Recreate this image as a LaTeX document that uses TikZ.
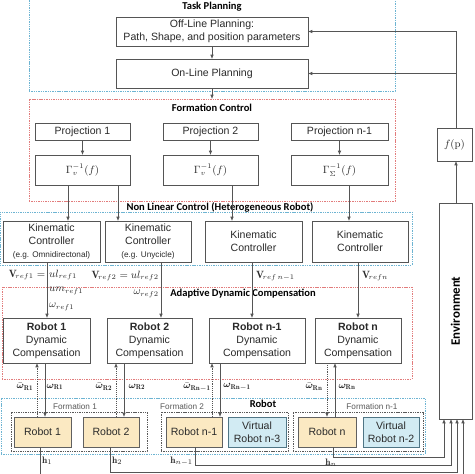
\documentclass[tikz,border=0pt]{standalone}
\usepackage{amsmath,bm}
\usepackage{fontspec}
\newfontfamily\arialfont{Liberation Sans}
\newfontfamily\titlefont{Carlito}
\usetikzlibrary{arrows.meta,positioning}
\definecolor{boxline}{HTML}{555555}
\definecolor{textc}{HTML}{2A2A2A}
\definecolor{grpblue}{HTML}{6DB4D2}
\definecolor{grpred}{HTML}{E27C7C}
\definecolor{robfill}{HTML}{FBE9C2}
\definecolor{virtfill}{HTML}{D2EBF3}
\definecolor{virtline}{HTML}{4F7585}
\tikzset{
  sz/.style 2 args={minimum width=#1*0.03cm,minimum height=#2*0.03cm},
  pbox/.style={draw=boxline,fill=white,line width=0.6pt,align=center,inner sep=0pt,outer sep=0pt,text=textc,font=\arialfont\fontsize{9}{11}\selectfont},
  ybox/.style={pbox,fill=robfill,draw=gray!75!black},
  cbox/.style={pbox,fill=virtfill,draw=virtline},
  bgrp/.style={draw=grpblue,dash pattern=on 1.2pt off 0.8pt,line width=0.8pt,inner sep=0pt,outer sep=0pt},
  rgrp/.style={bgrp,draw=grpred},
  fgrp/.style={bgrp,draw=gray!70!black,line width=0.7pt},
  gtitle/.style={inner sep=0pt,font=\titlefont\bfseries\fontsize{9}{10}\selectfont},
  ftitle/.style={inner sep=0pt,font=\arialfont\fontsize{7}{8}\selectfont,text=gray!70!black},
  mlab/.style={inner sep=0pt,text=textc,font=\fontsize{9}{10}\selectfont},
  wlab/.style={inner sep=0pt,text=textc,font=\fontsize{8}{9}\selectfont},
  varr/.style={-{Latex[length=1.3mm,width=1.1mm]},line width=0.6pt,draw=boxline},
  vdot/.style={varr,densely dotted},
  vline/.style={line width=0.6pt,draw=boxline}
}

\begin{document}
\begin{tikzpicture}[x=0.03cm,y=-0.03cm]
  \useasboundingbox (0,0) rectangle (474,474);
  \clip (0,0) rectangle (474,474);
  \fill[white] (0,0) rectangle (474,474);

  % groups
  \node[bgrp,sz={366}{100}] (taskgrp) at (212,41) {};
  \node[gtitle] (tasktitle) at (212,7) {Task Planning};
  \node[rgrp,sz={366}{102}] (formgrp) at (212,150) {};
  \node[gtitle] (formtitle) at (212,108) {Formation Control};
  \node[bgrp,sz={412}{53}] (nlgrp) at (206,238.5) {};
  \node[gtitle] (nltitle) at (220,207) {Non Linear Control (Heterogeneous Robot)};
  \node[rgrp,sz={410}{92}] (adgrp) at (207,333) {};
  \node[gtitle] (adtitle) at (243,294) {Adaptive Dynamic Compensation};
  \node[bgrp,sz={424}{56}] (robgrp) at (213,426) {};
  \node[gtitle] (robtitle) at (263,404) {Robot};
  \node[fgrp,sz={136}{39}] (f1grp) at (79,431.5) {};
  \node[ftitle] (f1title) at (75,407) {Formation 1};
  \node[fgrp,sz={127}{39}] (f2grp) at (224.5,431.5) {};
  \node[ftitle,anchor=west] (f2title) at (160,407) {Formation 2};
  \node[fgrp,sz={130}{39}] (fn1grp) at (358,431.5) {};
  \node[ftitle] (fn1title) at (372,407) {Formation n-1};

  % planning
  \node[pbox,sz={192}{29}] (offline) at (212,31.5) {Off-Line Planning:\\Path, Shape, and position parameters};
  \node[pbox,sz={192}{29}] (online) at (212,73.5) {On-Line Planning};

  % formation control
  \node[pbox,sz={95}{17}] (proj1) at (82.5,131.5) {Projection 1};
  \node[pbox,sz={95}{17}] (proj2) at (210.5,131.5) {Projection 2};
  \node[pbox,sz={97}{17}] (proj3) at (339.5,131.5) {Projection n-1};
  \node[pbox,sz={95}{30}] (gam1) at (82.5,170) {$\Gamma_{v}^{-1}(f)$};
  \node[pbox,sz={95}{30}] (gam2) at (210.5,170) {$\Gamma_{v}^{-1}(f)$};
  \node[pbox,sz={97}{30}] (gam3) at (339.5,170) {$\Gamma_{\Sigma}^{-1}(f)$};

  % kinematic controllers
  \node[pbox,sz={97}{41}] (kin1) at (51.5,241.5) {Kinematic\\Controller\\{\fontsize{7}{9}\selectfont(e.g. Omnidirectonal)}};
  \node[pbox,sz={86}{41}] (kin2) at (148,241.5) {Kinematic\\Controller\\{\fontsize{7}{9}\selectfont(e.g. Unycicle)}};
  \node[pbox,sz={97}{41}] (kin3) at (253.5,241.5) {Kinematic\\Controller};
  \node[pbox,sz={96}{41}] (kin4) at (360,241.5) {Kinematic\\Controller};

  % dynamic compensation
  \node[pbox,sz={87}{45}] (dyn1) at (46.5,340.5) {\textbf{Robot 1}\\Dynamic\\Compensation};
  \node[pbox,sz={85}{45}] (dyn2) at (149.5,340.5) {\textbf{Robot 2}\\Dynamic\\Compensation};
  \node[pbox,sz={96}{45}] (dyn3) at (257,340.5) {\textbf{Robot n-1}\\Dynamic\\Compensation};
  \node[pbox,sz={86}{45}] (dyn4) at (358,340.5) {\textbf{Robot n}\\Dynamic\\Compensation};

  % robots
  \node[ybox,sz={57}{30}] (rob1) at (42.5,432) {Robot 1};
  \node[ybox,sz={56}{30}] (rob2) at (111,432) {Robot 2};
  \node[ybox,sz={56}{30}] (robn1) at (194,432) {Robot n-1};
  \node[cbox,sz={58}{30}] (vir3) at (257,432) {Virtual\\Robot n-3};
  \node[ybox,sz={58}{30}] (robn) at (327,432) {Robot n};
  \node[cbox,sz={56}{30}] (vir2) at (391,432) {Virtual\\Robot n-2};

  % environment and f(p)
  \node[pbox,sz={35}{33},font=\fontsize{9}{10}\selectfont] (fp) at (454.5,144.5) {$f(\mathrm{p})$};
  \node[pbox,sz={33}{216}] (env) at (455.5,311) {};
  \node[rotate=90,inner sep=0pt,font=\titlefont\bfseries\fontsize{11}{12}\selectfont] (envtext) at (env.center) {Environment};

  % x positions of the vertical links
  \coordinate (ga) at (68,0);  \coordinate (gb) at (118,0);
  \coordinate (gc) at (232,0); \coordinate (gd) at (349,0);
  \coordinate (ka) at (47,0);  \coordinate (kb) at (161,0);
  \coordinate (kc) at (252,0); \coordinate (kd) at (358,0);
  \coordinate (r1u) at (37,0);  \coordinate (r1d) at (45,0);
  \coordinate (r2u) at (116,0); \coordinate (r2d) at (124,0);
  \coordinate (r3u) at (212,0); \coordinate (r3d) at (220,0);
  \coordinate (r4u) at (327,0); \coordinate (r4d) at (335,0);
  \coordinate (fbx) at (456,0);

  \draw[varr] (offline) -- (online);
  \draw[varr] (online) -- (formgrp.north);
  \draw[varr] (proj1) -- (gam1);
  \draw[varr] (proj2) -- (gam2);
  \draw[varr] (proj3) -- (gam3);
  \draw[varr] (gam1.south -| ga) -- (kin1.north -| ga);
  \draw[varr] (gam1.south -| gb) -- (kin2.north -| gb);
  \draw[varr] (gam2.south -| gc) -- (kin3.north -| gc);
  \draw[varr] (gam3.south -| gd) -- (kin4.north -| gd);
  \draw[varr] (kin1.south -| ka) -- (dyn1.north -| ka);
  \draw[varr] (kin2.south -| kb) -- (dyn2.north -| kb);
  \draw[varr] (kin3.south -| kc) -- (dyn3.north -| kc);
  \draw[varr] (kin4.south -| kd) -- (dyn4.north -| kd);

  \draw[vdot] (rob1.north -| r1u) -- (dyn1.south -| r1u);
  \draw[varr] (dyn1.south -| r1d) -- (rob1.north -| r1d);
  \draw[vdot] (rob2.north -| r2u) -- (dyn2.south -| r2u);
  \draw[varr] (dyn2.south -| r2d) -- (rob2.north -| r2d);
  \draw[vdot] (robn1.north -| r3u) -- (dyn3.south -| r3u);
  \draw[varr] (dyn3.south -| r3d) -- (robn1.north -| r3d);
  \draw[vdot] (dyn4.south -| r4u) -- (robn.north -| r4u);
  \draw[varr] (robn.north -| r4d) -- (dyn4.south -| r4d);

  % outputs to the environment
  \coordinate (ha) at (40,480);  \coordinate (ea) at (463,480);
  \coordinate (hb) at (110,472); \coordinate (eb) at (457,472);
  \coordinate (hc) at (195,465); \coordinate (ec) at (451,465);
  \coordinate (hd) at (333,457); \coordinate (ed) at (444,457);
  \draw[varr] (rob1.south -| ha) -- (ha) -- (ea) -- (env.south -| ea);
  \draw[varr] (rob2.south -| hb) -- (hb) -- (eb) -- (env.south -| eb);
  \draw[varr] (robn1.south -| hc) -- (hc) -- (ec) -- (env.south -| ec);
  \draw[varr] (robn.south -| hd) -- (hd) -- (ed) -- (env.south -| ed);

  % feedback
  \draw[varr] (env.north -| fbx) -- (fp.south -| fbx);
  \draw[varr] (fp.north -| fbx) |- (offline.east);
  \draw[varr] (online.east -| fbx) -- (online.east);

  % signal labels
  \node[mlab,anchor=east] (vr1) at (45.5,275) {$\mathbf{V}_{\!ref1} =$};
  \node[mlab,anchor=west] (ul1) at (49,275) {$ul_{ref1}$};
  \node[mlab,anchor=west] (um1) at (49,291) {$um_{ref1}$};
  \node[mlab,anchor=west] (om1) at (49,307) {$\omega_{ref1}$};
  \node[mlab,anchor=east] (vr2) at (159,276) {$\mathbf{V}_{\!ref2} = ul_{ref2}$};
  \node[mlab,anchor=east] (om2) at (159,294) {$\omega_{ref2}$};
  \node[mlab,anchor=west] (vr3) at (256,276) {$\mathbf{V}_{\!ref\,n-1}$};
  \node[mlab,anchor=west] (vr4) at (362,276) {$\mathbf{V}_{\!refn}$};

  \node[wlab] (wb1) at (25,387) {$\bar{\bm{\omega}}_{\mathbf{R1}}$};
  \node[wlab] (wr1) at (55,387) {$\bm{\omega}_{\mathbf{R1}}$};
  \node[wlab] (wb2) at (104,387) {$\bar{\bm{\omega}}_{\mathbf{R2}}$};
  \node[wlab] (wr2) at (137,387) {$\bm{\omega}_{\mathbf{R2}}$};
  \node[wlab] (wb3) at (197,387) {$\bar{\bm{\omega}}_{\mathbf{Rn-1}}$};
  \node[wlab] (wr3) at (237,387) {$\bm{\omega}_{\mathbf{Rn-1}}$};
  \node[wlab] (wb4) at (314,387) {$\bar{\bm{\omega}}_{\mathbf{Rn}}$};
  \node[wlab] (wr4) at (347,387) {$\bm{\omega}_{\mathbf{Rn}}$};

  \node[wlab,anchor=west] (h1) at (42,461) {$\mathbf{h}_1$};
  \node[wlab,anchor=west] (h2) at (112,461) {$\mathbf{h}_2$};
  \node[wlab,anchor=east] (h3) at (193,461) {$\mathbf{h}_{n-1}$};
  \node[wlab] (h4) at (331,463) {$\mathbf{h}_n$};
\end{tikzpicture}
\end{document}
